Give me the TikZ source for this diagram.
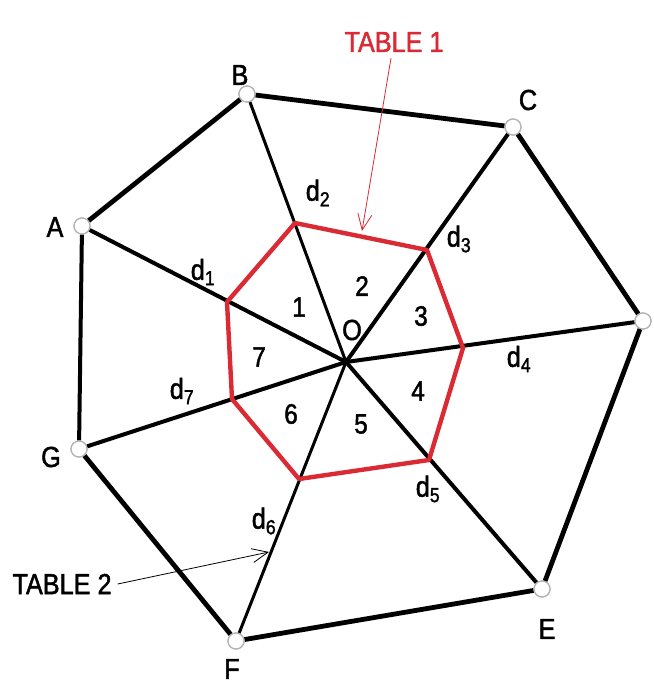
\documentclass[tikz,border=0pt]{standalone}
\usepackage{fontspec}
\setmainfont[FakeStretch=0.87, FakeBold=1.6]{Liberation Sans}
\usetikzlibrary{arrows.meta}
\definecolor{tablered}{RGB}{218,42,52}
\tikzstyle{vertex} = [circle, draw=gray!60, fill=white, line width=1.2pt, minimum size=16pt, inner sep=0pt]
\tikzstyle{edge} = [line width=4.8pt]
\tikzstyle{spoke} = [line width=4pt]
\tikzstyle{thinspoke} = [line width=3pt]
\tikzstyle{table} = [draw=tablered, line width=4.4pt, line join=round]
\tikzstyle{lbl} = [font=\fontsize{29}{32}\selectfont, inner sep=0pt]
\tikzstyle{num} = [font=\fontsize{28}{32}\selectfont, inner sep=0pt]
\tikzstyle{pointer} = [line width=0.8pt, -{Straight Barb[length=16pt,width=14pt]}]

\begin{document}
\begin{tikzpicture}[x=1pt, y=-1pt]
\useasboundingbox (0,0) rectangle (653,700);

% outer points
\node (ptA) [vertex] at (82,226) {};
\node (ptB) [vertex] at (247,94) {};
\node (ptC) [vertex] at (513,127) {};
\node (ptD) [vertex] at (643,321) {};
\node (ptE) [vertex] at (542,589) {};
\node (ptF) [vertex] at (236,641) {};
\node (ptG) [vertex] at (79,449) {};
\coordinate (O) at (346,362);

% red polygon corners
\coordinate (rd1) at (227,302);
\coordinate (rd2) at (295,223);
\coordinate (rd3) at (427,250);
\coordinate (rd4) at (463,348);
\coordinate (rd5) at (429,460);
\coordinate (rd6) at (299,479);
\coordinate (rd7) at (232,399);

%---------------------------------SPOKES
\draw [spoke] (O) -- (ptA);
\draw [thinspoke] (O) -- (ptB);
\draw [spoke] (O) -- (ptC);
\draw [spoke] (O) -- (ptD);
\draw [spoke] (O) -- (ptE);
\draw [thinspoke] (O) -- (ptF);
\draw [spoke] (O) -- (ptG);

%---------------------------------EDGES
\draw [edge] (ptA) -- (ptB);
\draw [edge] (ptB) -- (ptC);
\draw [edge] (ptC) -- (ptD);
\draw [edge] (ptD) -- (ptE);
\draw [edge] (ptE) -- (ptF);
\draw [edge] (ptF) -- (ptG);
\draw [spoke] (ptG) -- (ptA);

\draw [table] (rd1) -- (rd2) -- (rd3) -- (rd4) -- (rd5) -- (rd6) -- (rd7) -- cycle;

% redraw points on top
\foreach \p in {ptA,ptB,ptC,ptD,ptE,ptF,ptG}
  \node [vertex] at (\p) {};

%---------------------------------LABELS
\node (lA) [lbl] at (55,227) {A};
\node (lB) [lbl] at (240,75) {B};
\node (lC) [lbl] at (528,100) {C};
\node (lE) [lbl] at (547,629) {E};
\node (lF) [lbl] at (232,669) {F};
\node (lG) [lbl] at (51,457) {G};
\node (lO) [lbl] at (352,330) {O};

\node (d1) [lbl] at (203,272) {d\textsubscript{1}};
\node (d2) [lbl] at (318,193) {d\textsubscript{2}};
\node (d3) [lbl] at (459,239) {d\textsubscript{3}};
\node (d4) [lbl] at (519,359) {d\textsubscript{4}};
\node (d5) [lbl] at (428,489) {d\textsubscript{5}};
\node (d6) [lbl] at (264,521) {d\textsubscript{6}};
\node (d7) [lbl] at (182,391) {d\textsubscript{7}};

\node (n1) [num] at (299,307) {1};
\node (n2) [num] at (362,286) {2};
\node (n3) [num] at (421,316) {3};
\node (n4) [num] at (418,391) {4};
\node (n5) [num] at (361,424) {5};
\node (n6) [num] at (291,414) {6};
\node (n7) [num] at (259,357) {7};

\node (tab1) [lbl, text=tablered] at (394,42) {TABLE 1};
\node (tab2) [lbl] at (62,584) {TABLE 2};
\coordinate (hit1) at (362,231);
\coordinate (hit2) at (269,552);
\draw [pointer, draw=tablered] (tab1.south) ++(-3,6) -- (hit1);
\draw [pointer] (tab2.east) ++(6,0) -- (hit2);

\end{tikzpicture}
\end{document}
